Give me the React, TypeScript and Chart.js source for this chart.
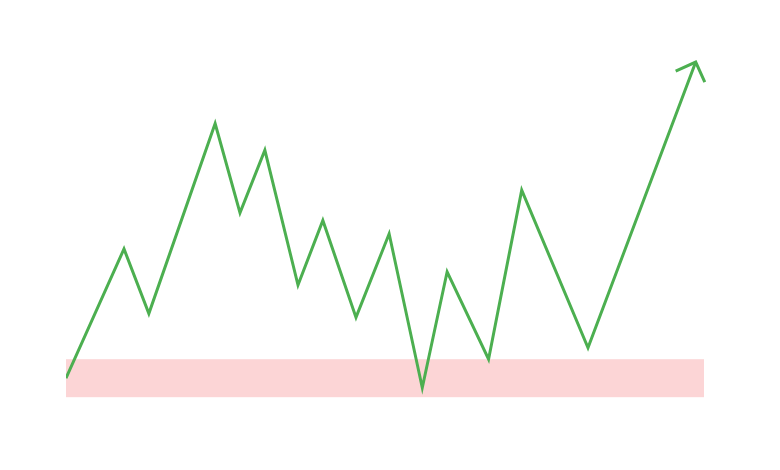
import React, { useEffect, useRef } from "react";
import { Chart, registerables } from "chart.js";

Chart.register(...registerables);

// irregular time steps along the path
const steps = [0, 7, 10, 18, 21, 24, 28, 31, 35, 39, 43, 46, 51, 55, 63, 76];
const prices = [11, 45, 28, 78, 54.5, 71, 35.5, 52.5, 27, 49, 8.5, 39, 16, 60.5, 19, 94.2];
const zoneLow = 6;
const zoneHigh = 16;

const xMax = 77;
const yMin = 0;
const yMax = 100;

const lineColor = "#4caf50";
const zoneColor = "#fcd5d6";

const zonePlugin = {
  id: "zone",
  beforeDatasetsDraw(chart: Chart) {
    const { ctx, scales } = chart;
    const x = scales.x;
    const y = scales.y;
    const left = x.getPixelForValue(0);
    const right = x.getPixelForValue(xMax);
    const top = y.getPixelForValue(zoneHigh);
    const bottom = y.getPixelForValue(zoneLow);
    ctx.save();
    ctx.fillStyle = zoneColor;
    ctx.fillRect(left, top, right - left, bottom - top);
    ctx.restore();
  },
};

const arrowPlugin = {
  id: "arrowHead",
  afterDatasetsDraw(chart: Chart) {
    const pts = chart.getDatasetMeta(0).data;
    if (pts.length < 2) return;
    const a = pts[pts.length - 2];
    const b = pts[pts.length - 1];
    const ang = Math.atan2(b.y - a.y, b.x - a.x);
    const len = 22;
    const spread = Math.PI / 4;
    const { ctx } = chart;
    ctx.save();
    ctx.strokeStyle = lineColor;
    ctx.lineWidth = 3;
    ctx.lineJoin = "miter";
    ctx.beginPath();
    ctx.moveTo(b.x - len * Math.cos(ang - spread), b.y - len * Math.sin(ang - spread));
    ctx.lineTo(b.x, b.y);
    ctx.lineTo(b.x - len * Math.cos(ang + spread), b.y - len * Math.sin(ang + spread));
    ctx.stroke();
    ctx.restore();
  },
};

export default function App() {
  const canvasRef = useRef<HTMLCanvasElement>(null);
  const chartRef = useRef<Chart | null>(null);

  useEffect(() => {
    if (!canvasRef.current) return;
    const ctx = canvasRef.current.getContext("2d");
    if (!ctx) return;

    if (chartRef.current) chartRef.current.destroy();

    chartRef.current = new Chart(ctx, {
      type: "line",
      data: {
        datasets: [
          {
            data: steps.map((s, i) => ({ x: s, y: prices[i] })),
            borderColor: lineColor,
            borderWidth: 3,
            pointRadius: 0,
            tension: 0,
            fill: false,
          },
        ],
      },
      options: {
        responsive: true,
        maintainAspectRatio: false,
        animation: false,
        layout: {
          padding: { left: 66, right: 76, top: 40, bottom: 50 },
        },
        scales: {
          x: { type: "linear", display: false, min: 0, max: xMax },
          y: { display: false, min: yMin, max: yMax },
        },
        plugins: {
          legend: { display: false },
          tooltip: { enabled: false },
        },
      },
      plugins: [zonePlugin, arrowPlugin],
    });

    return () => {
      if (chartRef.current) {
        chartRef.current.destroy();
        chartRef.current = null;
      }
    };
  }, []);

  return (
    <div style={{ position: "absolute", left: 0, top: 0, width: 780, height: 470, background: "#fff" }}>
      <canvas ref={canvasRef} />
    </div>
  );
}
